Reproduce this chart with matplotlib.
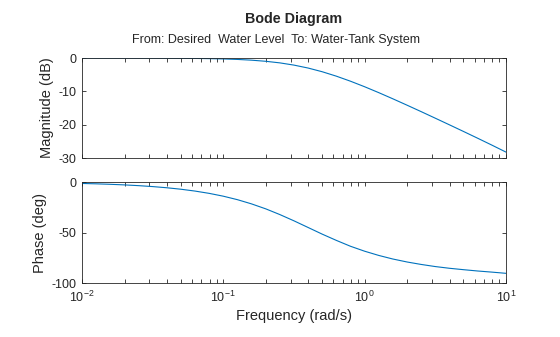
import matplotlib
matplotlib.use("Agg")
import matplotlib.pyplot as plt
import matplotlib.ticker as mticker

plt.rcParams['font.family'] = ['Liberation Sans', 'DejaVu Sans']
plt.rcParams['mathtext.fontset'] = 'custom'
plt.rcParams['mathtext.rm'] = 'Liberation Sans'
plt.rcParams['mathtext.default'] = 'regular'
plt.rcParams['axes.unicode_minus'] = False

# values
freq = [0.01, 0.0126, 0.0158, 0.02, 0.0251, 0.0316, 0.0398, 0.0501, 0.0631, 0.0794,
        0.1, 0.126, 0.158, 0.2, 0.251, 0.316, 0.398, 0.501, 0.631, 0.794,
        1.0, 1.26, 1.58, 2.0, 2.51, 3.16, 3.98, 5.01, 6.31, 7.94, 10.0]
mag_db = [-0.003, -0.004, -0.007, -0.011, -0.017, -0.027, -0.043, -0.068, -0.107, -0.168,
          -0.26, -0.41, -0.63, -0.97, -1.44, -2.11, -2.99, -4.10, -5.43, -6.94,
          -8.60, -10.38, -12.2, -14.15, -16.06, -18.03, -20.02, -22.02, -24.05, -26.1, -28.2]
phase_deg = [-1.43, -1.80, -2.26, -2.86, -3.59, -4.52, -5.68, -7.14, -8.97, -11.23,
             -14.04, -17.5, -21.6, -26.6, -32.2, -38.4, -45.0, -51.6, -57.8, -63.6,
             -68.5, -72.7, -76.2, -79.2, -81.6, -83.7, -85.4, -86.8, -88.1, -89.2, -90.4]

line_c = '#0072BD'
ax_c = '#262626'

fig = plt.figure(figsize=(5.6, 3.37), dpi=100)
ax1 = fig.add_axes([0.1464, 0.531, 0.757, 0.2967])
ax2 = fig.add_axes([0.1464, 0.1602, 0.757, 0.2997])

ax1.plot(freq, mag_db, color=line_c, lw=0.8)
ax2.plot(freq, phase_deg, color=line_c, lw=0.8)

for ax in (ax1, ax2):
    ax.set_xscale('log')
    ax.set_xlim(0.01, 10)
    ax.tick_params(which='both', direction='in', top=True, right=True,
                   length=3, width=0.6, colors=ax_c, labelsize=9)
    ax.tick_params(axis='y', pad=4)
    ax.tick_params(axis='x', pad=5)
    ax.xaxis.set_major_locator(mticker.LogLocator(base=10))
    ax.xaxis.set_minor_locator(mticker.LogLocator(base=10, subs=range(2, 10)))
    ax.xaxis.set_minor_formatter(mticker.NullFormatter())
    for s in ax.spines.values():
        s.set_color(ax_c)
        s.set_linewidth(0.6)

ax1.set_ylim(-30, 0)
ax1.set_yticks([-30, -20, -10, 0])
ax1.set_xticklabels([])
ax1.set_ylabel('Magnitude (dB)', fontsize=10.5, color=ax_c, labelpad=3)

ax2.set_ylim(-100, 0)
ax2.set_yticks([-100, -50, 0])
ax2.xaxis.set_major_formatter(mticker.LogFormatterMathtext())
ax2.set_ylabel('Phase (deg)', fontsize=10.5, color=ax_c, labelpad=3)
ax2.set_xlabel('Frequency (rad/s)', fontsize=10.5, color=ax_c, labelpad=3)

fig.text(0.525, 0.943, 'Bode Diagram', ha='center', va='center',
         fontsize=10.3, fontweight='bold', color=ax_c)
fig.text(0.492, 0.881, 'From: Desired  Water Level  To: Water-Tank System',
         ha='center', va='center', fontsize=9, color=ax_c)

fig.savefig('out.png', dpi=100)
